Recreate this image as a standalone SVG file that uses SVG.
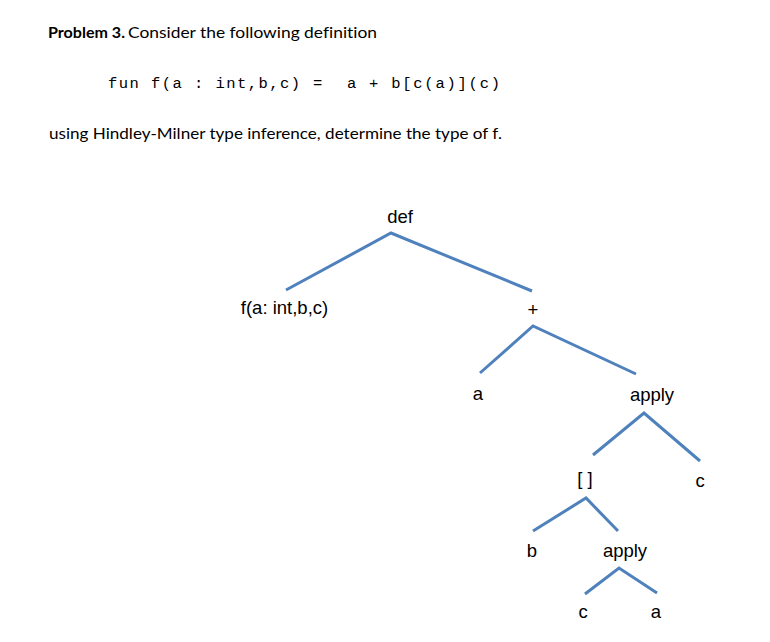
<svg xmlns="http://www.w3.org/2000/svg" width="770" height="642" viewBox="0 0 770 642">
<style>
.t{font-family:Lato,"Liberation Sans",Arial,sans-serif;font-size:15.5px;fill:#000;font-variant-ligatures:none;font-feature-settings:"liga" 0}
.b{font-weight:bold}
.m{font-family:"Liberation Mono","Courier New",monospace;font-size:15.5px;fill:#000}
.n{font-family:"Liberation Sans",Arial,sans-serif;font-size:18.5px;fill:#000;text-anchor:middle}
.e{stroke:#4F81BD;stroke-width:3;fill:none;stroke-linecap:butt;stroke-linejoin:miter}
</style>
<rect width="770" height="642" fill="#fff"/>
<g id="problem">
<text class="t b" x="48" y="38" textLength="77" lengthAdjust="spacingAndGlyphs">Problem 3.</text>
<text class="t" x="128" y="38" textLength="249" lengthAdjust="spacingAndGlyphs">Consider the following definition</text>
<text class="m" x="108" y="88" textLength="192" lengthAdjust="spacing">fun f(a : int,b,c)</text>
<text class="m" x="313" y="88">=</text>
<text class="m" x="347" y="88" textLength="153" lengthAdjust="spacing">a + b[c(a)](c)</text>
<text class="t" x="49" y="139" textLength="453" lengthAdjust="spacingAndGlyphs">using Hindley-Milner type inference, determine the type of f.</text>
</g>
<g id="connectors">
<polyline class="e" points="286,290 391,233 532,291"/>
<polyline class="e" points="480,373 533,326 636,374"/>
<polyline class="e" points="593,455 644,413 700,461"/>
<polyline class="e" points="533,531 586,498 618,531"/>
<polyline class="e" points="585,594 619,568 657,593"/>
</g>
<g id="node-def"><text class="n" x="400" y="223">def</text></g>
<g id="node-f"><text class="n" x="284.5" y="314">f(a: int,b,c)</text></g>
<g id="node-plus"><text class="n" x="533" y="316">+</text></g>
<g id="node-a1"><text class="n" x="478" y="400">a</text></g>
<g id="node-apply1"><text class="n" x="652" y="401">apply</text></g>
<g id="node-index"><text class="n" x="585" y="485">[ ]</text></g>
<g id="node-c1"><text class="n" x="700" y="487">c</text></g>
<g id="node-b"><text class="n" x="532" y="557">b</text></g>
<g id="node-apply2"><text class="n" x="625" y="557">apply</text></g>
<g id="node-c2"><text class="n" x="583" y="618">c</text></g>
<g id="node-a2"><text class="n" x="656" y="618">a</text></g>
</svg>
